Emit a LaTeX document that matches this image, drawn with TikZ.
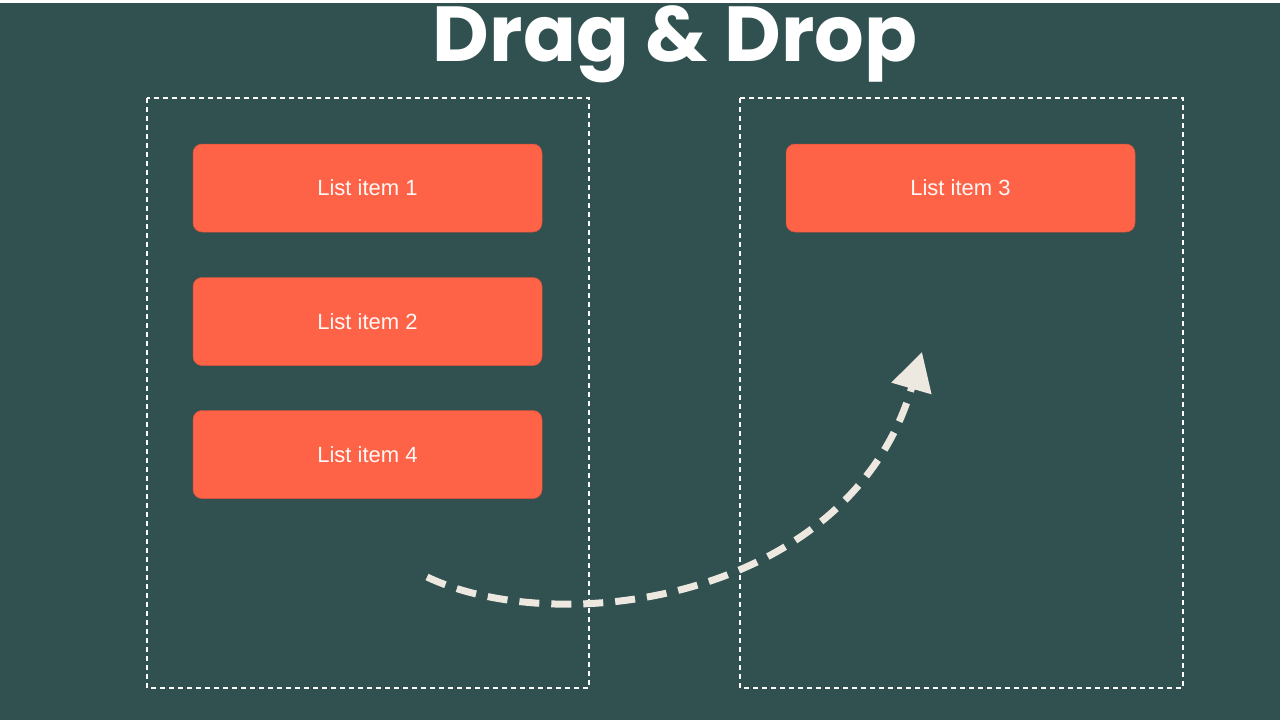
\documentclass[tikz,border=0pt]{standalone}
\usepackage{fontspec}
\setmainfont{Liberation Sans}
\newfontfamily\titlefont{Poppins}
\usetikzlibrary{arrows.meta}
\definecolor{bg}{HTML}{315050}
\definecolor{item}{HTML}{FF6347}
\definecolor{arr}{HTML}{EDE8E0}
\begin{document}
\begin{tikzpicture}[x=1pt,y=-1pt,
  zone/.style={draw=white,line width=2pt,dash pattern=on 5pt off 4pt},
  itembox/.style={fill=item,draw=item!85!black,line width=0.5pt,rounded corners=9pt,minimum width=349pt,minimum height=88pt,text=white!95!item,font=\fontsize{22}{26}\selectfont,inner sep=0pt}]
\fill[bg] (0,0) rectangle (1280,720);
\fill[white] (0,0) rectangle (1280,3);
\node[text=white,font=\titlefont\bfseries\fontsize{78}{90}\selectfont] (title) at (675,44) {Drag \& Drop};
\draw[zone] (147,98) rectangle (589,688);
\draw[zone] (740,98) rectangle (1183,688);
\node[itembox] (i1) at (367.5,188) {List item 1};
\node[itembox] (i2) at (367.5,321.5) {List item 2};
\node[itembox] (i4) at (367.5,454.5) {List item 4};
\node[itembox] (i3) at (960.5,188) {List item 3};
\coordinate (s) at (427,577);
\coordinate (e) at (922,352);
\draw[arr,line width=7pt,dash pattern=on 20pt off 12pt,-{Triangle[length=38pt,width=40pt]}]
  (s) .. controls (560,640) and (850,600) .. (e);
\end{tikzpicture}
\end{document}
